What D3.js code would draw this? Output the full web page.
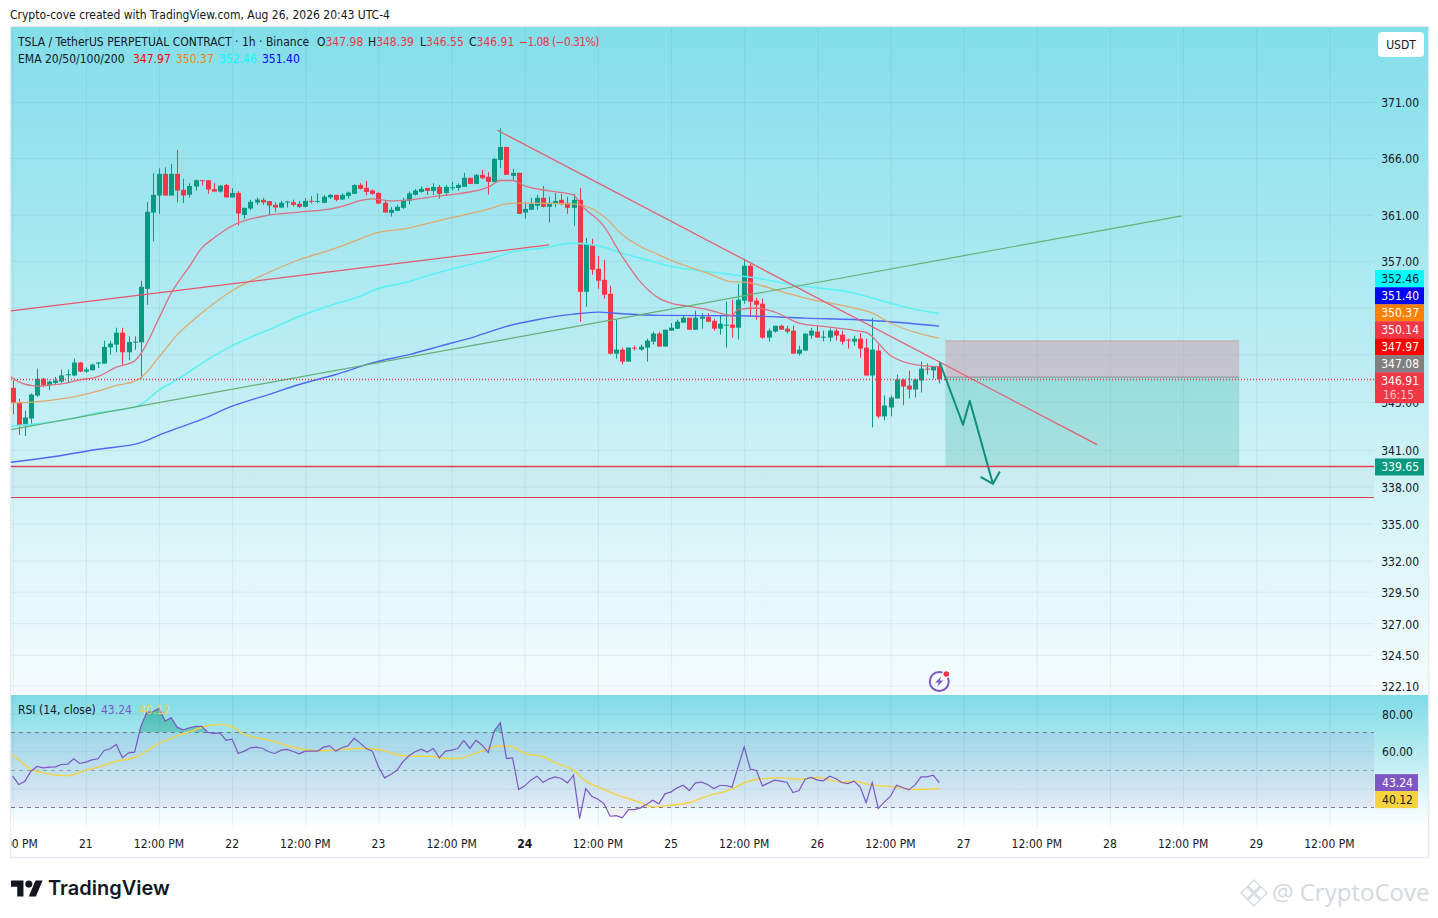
<!DOCTYPE html>
<html lang="en">
<head>
<meta charset="UTF-8" />
<title>TSLA / TetherUS 1h</title>
<script src="https://cdn.jsdelivr.net/npm/d3@7"></script>
<style>
  body { margin: 0; background: #fff; }
  svg { display: block; }
  text { font-family: "DejaVu Sans Condensed", "Noto Sans", sans-serif; font-size: 12px; fill: #131722; }
</style>
</head>
<body>
<div id="chart"></div>
<script>
// hourly candles, bar 0 = Aug 20 12:00
const opens = [346.18,344.93,343.05,343.62,345.54,346.94,346.43,346.60,346.71,347.24,
347.22,348.31,347.55,347.66,348.22,348.22,349.60,349.83,350.84,349.18,
350.02,350.02,354.59,361.20,362.69,364.60,362.69,364.60,363.19,362.75,
363.48,364.04,364.04,363.25,363.04,363.62,362.52,362.92,360.99,361.55,
362.08,362.31,362.20,361.87,361.64,362.11,362.11,361.96,361.70,362.22,
362.17,362.05,362.52,362.75,362.34,362.66,362.84,363.62,363.36,363.13,
362.92,362.05,361.17,361.35,361.61,362.25,362.75,363.01,363.36,363.10,
363.45,362.92,363.33,363.36,363.45,364.25,363.71,364.51,364.34,363.89,
365.83,366.98,364.42,364.69,361.20,361.44,361.79,362.49,361.70,361.99,
362.31,362.05,361.61,362.31,354.33,358.39,356.31,355.36,354.16,349.06,
349.40,348.39,349.57,349.40,349.57,350.08,350.76,349.66,351.01,351.18,
351.69,352.11,351.09,352.02,352.19,351.85,351.18,351.43,351.52,351.26,
353.57,356.57,353.57,353.31,350.42,350.93,351.43,351.18,351.01,349.06,
349.32,350.59,350.93,350.42,350.42,351.01,350.67,350.25,350.08,350.33,
349.57,347.22,349.32,343.79,344.54,345.29,346.88,346.37,346.04,346.80,
347.80,347.64,347.98];
const highs = [346.82,345.26,344.29,345.71,347.80,347.02,346.77,347.10,347.72,347.72,
348.64,348.36,347.89,348.22,348.36,350.16,350.16,351.26,351.26,350.53,
350.53,355.28,362.11,364.66,365.10,365.19,365.48,366.72,364.16,363.77,
364.10,364.04,364.04,363.77,363.62,363.71,363.33,363.07,361.61,362.31,
362.52,362.49,362.20,362.11,362.22,362.22,362.34,362.22,362.46,362.66,
362.89,362.75,362.81,362.75,362.89,363.04,363.68,363.77,363.98,363.22,
362.98,362.22,361.67,361.90,362.49,363.04,363.27,363.48,363.36,363.77,
363.62,363.62,363.89,363.77,364.69,364.25,364.57,364.95,364.75,366.01,
368.65,366.98,365.04,364.69,362.14,362.49,362.75,363.53,362.58,362.92,
362.84,362.58,362.84,363.36,358.99,358.91,357.43,357.09,354.85,351.94,
349.57,349.57,349.74,349.83,350.33,350.93,350.93,351.09,351.66,351.94,
352.28,352.11,352.71,352.51,352.51,352.02,352.36,353.48,353.65,355.02,
357.17,356.74,353.82,353.74,351.18,351.43,351.52,351.43,351.43,349.74,
350.76,351.26,351.43,351.01,351.18,351.18,351.01,350.33,350.59,350.81,
350.33,352.08,349.83,345.54,345.54,347.30,346.96,347.63,346.96,348.39,
348.22,348.02,348.39];
const lows = [343.96,342.25,342.17,342.99,345.40,346.23,345.99,346.46,346.60,346.60,
347.16,347.50,347.44,347.64,347.86,348.22,348.98,349.18,348.11,348.50,
349.40,346.94,353.22,358.68,361.08,362.69,362.69,362.08,362.02,362.52,
363.13,363.56,362.84,363.04,362.95,362.52,362.52,360.07,360.65,361.38,
361.87,361.87,360.94,361.26,361.61,361.64,361.73,361.58,361.64,361.99,
362.02,362.02,362.40,362.17,362.31,362.43,362.84,363.22,362.72,362.75,
361.96,361.20,360.85,361.32,361.52,361.90,362.69,362.95,362.75,362.72,
362.43,362.66,363.13,363.13,363.45,363.71,363.71,364.13,362.78,363.86,
365.10,364.51,364.07,361.08,360.65,361.41,361.44,361.64,360.33,361.67,
361.87,361.08,360.04,351.77,353.05,355.79,354.59,353.74,348.98,348.64,
348.14,348.39,349.32,349.32,348.39,349.83,349.66,349.66,351.01,351.15,
351.69,351.09,351.09,351.18,351.77,351.01,350.67,349.57,350.42,350.25,
353.31,352.22,351.94,350.33,350.08,350.84,351.09,350.76,349.06,348.90,
349.32,350.33,350.42,350.11,350.08,350.16,349.83,349.49,349.74,348.72,
347.22,342.88,343.62,343.46,343.79,345.29,344.71,345.29,345.37,345.79,
347.30,346.96,346.55];
const closes = [344.93,343.05,343.71,345.62,346.94,346.43,346.71,346.80,347.22,347.33,
348.31,347.55,347.72,348.14,348.31,349.63,349.91,350.84,349.18,350.05,
350.08,354.76,361.26,362.75,364.60,362.69,364.60,363.13,362.69,363.53,
364.04,363.98,363.22,363.04,363.56,362.52,362.92,361.11,361.61,362.14,
362.34,362.08,361.81,361.64,362.05,362.17,361.87,361.70,362.22,362.17,
362.22,362.58,362.75,362.31,362.75,362.95,363.62,363.27,363.01,362.84,
361.99,361.20,361.43,361.70,362.28,362.87,363.13,363.27,363.10,363.45,
362.84,363.45,363.42,363.62,364.25,363.71,364.51,364.22,363.89,365.92,
366.98,364.51,364.69,361.08,361.52,361.96,362.49,361.70,362.05,362.22,
361.93,361.61,362.31,354.33,358.47,356.23,355.28,354.08,349.06,349.40,
348.39,349.57,349.49,349.66,350.16,350.76,349.66,351.09,351.26,351.77,
352.11,351.09,352.11,352.22,351.77,351.18,351.60,351.52,351.26,353.65,
356.57,353.48,353.22,350.42,351.01,351.43,351.09,350.93,349.06,349.40,
350.76,351.01,350.42,350.50,351.01,350.59,350.08,350.19,350.33,349.49,
347.22,349.40,343.79,344.71,345.37,346.88,346.29,346.04,346.88,347.80,
347.72,347.97,346.91];

// EMA readings as [bar, price]
const ema20 = [[-0.3,347.1],[1,346.68],[3,346.38],[4,346.32],[6,346.40],[9,346.60],[11,346.85],[14,347.13],[17,347.92],[20,348.45],[21,349.04],[24,352.08],[26,354.22],[29,356.51],[31,358.10],[33,358.97],[36,360.04],[42,360.97],[47,361.23],[53,361.61],[55,361.90],[57,362.25],[59,362.40],[62,362.22],[65,362.31],[70,362.66],[73,362.84],[78,363.42],[80,364.01],[82,364.01],[84,363.53],[88,363.10],[92,362.75],[93,362.02],[97,359.98],[100,357.37],[103,355.16],[106,353.79],[108,353.36],[111,353.08],[114,352.80],[118,352.31],[119,352.80],[122,352.94],[125,352.60],[129,351.66],[133,351.37],[138,351.04],[140,350.87],[144,348.90],[148,348.14],[152,347.97]];
const ema50 = [[-0.3,344.9],[3,344.98],[9,345.34],[14,345.90],[17,346.38],[20,346.74],[21,347.02],[24,348.78],[27,350.67],[31,352.51],[36,354.42],[42,355.99],[47,357.09],[53,358.10],[57,358.91],[59,359.32],[65,359.84],[70,360.50],[78,361.49],[81,361.96],[83,362.02],[92,361.96],[97,360.85],[100,359.26],[103,358.24],[106,357.52],[108,357.03],[114,355.94],[118,355.19],[120,355.16],[126,354.36],[130,353.79],[138,352.94],[141,352.51],[144,351.66],[149,350.73],[152,350.37]];
const ema100 = [[-0.3,342.99],[3,343.13],[9,343.54],[14,344.10],[20,344.57],[21,344.79],[24,345.99],[27,346.88],[32,348.56],[36,349.74],[42,351.09],[47,352.22],[53,353.31],[57,353.94],[59,354.42],[65,355.22],[70,356.02],[78,357.09],[82,357.78],[87,358.10],[92,358.53],[96,358.30],[100,357.66],[103,357.23],[108,356.51],[117,355.88],[122,355.51],[128,354.93],[138,354.22],[142,353.65],[147,352.94],[152,352.46]];
const ema200 = [[-0.3,340.00],[6,340.41],[14,341.07],[21,341.62],[25,342.44],[31,343.54],[36,344.65],[42,345.62],[47,346.46],[53,347.30],[59,348.28],[65,348.98],[70,349.68],[76,350.53],[81,351.37],[86,351.94],[92,352.42],[96,352.59],[100,352.45],[106,352.31],[119,352.28],[130,352.08],[141,351.88],[152,351.40]];

// RSI per bar
const rsi = [46.67,42.23,44.0,49.34,51.83,51.11,51.47,51.65,52.89,53.07,
55.91,53.43,54.14,55.38,55.91,60.36,61.25,63.56,56.45,59.11,
59.47,72.98,80.63,80.98,82.76,76.0,77.78,72.63,71.38,72.45,
73.16,73.16,69.96,69.43,69.78,65.69,66.4,58.76,60.0,61.78,
62.14,61.43,59.65,58.76,60.54,60.89,59.83,58.58,60,60,
60,62.14,62.85,60,61.78,62.85,66.76,64.27,61.43,60,
51.65,45.78,47.56,49.69,54.31,57.51,59.65,61.07,59.47,61.43,
56.45,60,60.54,61.43,65.69,61.43,65.69,63.2,59.29,70.85,
75.11,56.09,56.45,39.56,41.51,44.54,46.67,43.47,45.25,46.31,
45.42,43.11,47.2,24.09,40.09,36.0,34.4,32.09,25.34,25.69,
24.45,28.89,28.89,29.78,31.74,33.87,31.91,37.25,38.31,40.45,
41.87,39.02,43.11,43.47,42.23,40.09,41.69,41.69,40.8,51.65,
62.31,50.4,49.69,41.51,43.11,44.54,44.0,43.47,37.96,39.02,
45.07,45.96,44.54,44.18,46.67,45.42,43.29,42.76,44.0,40.98,
32.62,43.29,29.43,33.0,36.0,41.87,40.62,39.38,41.87,46.31,
46.31,47.2,43.24];
const rsiMa = [[0,58.23],[3,50.4],[5,48.45],[9,46.85],[12,49.87],[14,51.47],[17,54.67],[20,56.63],[24,64.09],[29,70.31],[32,73.51],[34,74.23],[36,72.98],[38,68.89],[42,65.87],[47,61.43],[50,60.18],[57,61.43],[60,60.89],[63,58.23],[65,57.34],[69,57.16],[71,56.09],[73,56.09],[77,60.18],[80,62.85],[82,62.31],[84,58.76],[87,57],[89,53.78],[92,49.87],[94,44],[96,40.98],[99,36.89],[103,32.62],[105,30.31],[108,31.2],[111,32.62],[114,36.18],[118,39.74],[120,43.11],[122,44.89],[126,45.78],[129,45.07],[132,45.96],[136,43.47],[138,44],[140,42.58],[145,40.8],[148,39.56],[152,40.12]];

// drawings, [bar, price]
const fallLine = [[79.45,368.49],[177.9,341.45]];
const riseRed = [[-0.3,352.70],[87.98,358.38]];
const riseGreen = [[-0.3,342.69],[191.8,360.91]];
const zigzag = [[152.1,348.29],[155.9,343.10],[157,345.10],[160.8,338.23]];
const boxBars = [153,201.2];
const boxPrices = [350.14,347.08,339.65];
const lowerLevel = 337.18;

const gridPrices = [371,366,361,357,353,349,345,341,338,335,332,329.5,327,324.5,322.1];
const priceTicks = [371,366,361,357,345,341,338,335,332,329.5,327,324.5,322.1];
const rsiTicks = [80,60,40];
const rsiAxisTicks = [80,60];
const rsiLevels = [70,50,30];
const timeTicks = d3.range(0,217,12);

const axisLabels = [
  {v:346.91, bg:"#f23645", fg:"#fff", sub:"16:15"},
  {v:347.08, bg:"#808080", fg:"#fff"},
  {v:347.97, bg:"#ff0000", fg:"#fff"},
  {v:350.14, bg:"#f23645", fg:"#fff"},
  {v:350.37, bg:"#ff7f00", fg:"#fff"},
  {v:351.40, bg:"#0000ff", fg:"#fff"},
  {v:352.46, bg:"#00ffff", fg:"#131722"}
];
const stopLabel = [{v:339.65, bg:"#089981", fg:"#fff"}];
const rsiLabels = [
  {v:43.24, bg:"#7e57c2", fg:"#fff"},
  {v:40.12, bg:"#f5d33f", fg:"#131722"}
];

const width = 1438, height = 918;
const left = 11, plotRight = 1374, right = 1428;
const priceTop = 27, priceBottom = 695, rsiBottom = 827, frameBottom = 858;
const green = "#089981", red = "#f23645";

const t0 = Date.UTC(2026,7,20,12);
const time = i => new Date(t0 + i*3600000);

const x = d3.scaleUtc([time(0), time(216)], [12.7, 1329.4]);
const y = d3.scaleLog([322.1, 371], [685.5, 102]);
const yr = d3.scaleLinear([19.6, 89.9], [rsiBottom, priceBottom]);

const svg = d3.select("#chart").append("svg").attr("width", width).attr("height", height);
const defs = svg.append("defs");

function gradient(id, stops){
  const g = defs.append("linearGradient").attr("id", id).attr("x1",0).attr("y1",0).attr("x2",0).attr("y2",1);
  stops.forEach(s => g.append("stop").attr("offset", s[0]).attr("stop-color", s[1]));
}
gradient("bgMain", [[0,"#82deea"],[1,"#f5fcfd"]]);
gradient("bgRsi", [[0,"#7edbe6"],[1,"#ffffff"]]);
gradient("obFill", [[0,"rgba(8,153,129,.5)"],[0.8,"rgba(8,153,129,0)"]]);

defs.append("clipPath").attr("id","clipPlot").append("rect").attr("x",left).attr("y",priceTop).attr("width",plotRight-left).attr("height",frameBottom-priceTop);
defs.append("clipPath").attr("id","clipOver").append("rect").attr("x",left).attr("y",priceBottom).attr("width",plotRight-left).attr("height",yr(70)-priceBottom);
defs.append("clipPath").attr("id","clipUnder").append("rect").attr("x",left).attr("y",yr(30)).attr("width",plotRight-left).attr("height",rsiBottom-yr(30));
defs.append("marker").attr("id","arrowHead").attr("markerUnits","userSpaceOnUse")
  .attr("markerWidth",30).attr("markerHeight",30).attr("refX",0).attr("refY",0).attr("orient","auto")
  .attr("viewBox","-15 -15 30 30")
  .append("path").attr("d","M-10,-10L0,0L-10,10").attr("fill","none").attr("stroke","#0d8f7d").attr("stroke-width",2);

// page frame and pane backgrounds
svg.append("rect").attr("x",10.5).attr("y",priceTop-0.5).attr("width",right-10).attr("height",frameBottom-priceTop).attr("fill","#fff").attr("stroke","#e6e9ef").attr("stroke-width",1.5);
svg.append("rect").attr("x",left).attr("y",priceTop).attr("width",right-left).attr("height",priceBottom-priceTop).attr("fill","url(#bgMain)");
svg.append("rect").attr("x",left).attr("y",priceBottom).attr("width",right-left).attr("height",rsiBottom-priceBottom).attr("fill","url(#bgRsi)");

const plot = svg.append("g").attr("clip-path","url(#clipPlot)");
const gridColor = "rgba(50,90,110,.08)";

// grids
const gridX = plot.append("g").attr("transform",`translate(0,${rsiBottom})`)
  .call(d3.axisBottom(x).tickValues(timeTicks.map(time)).tickSize(-(rsiBottom-priceTop)).tickFormat(""));
gridX.select(".domain").remove();
gridX.selectAll("line").attr("stroke",gridColor);
const gridY = plot.append("g").attr("transform",`translate(${plotRight},0)`)
  .call(d3.axisLeft(y).tickValues(gridPrices).tickSize(plotRight-left).tickFormat(""));
gridY.select(".domain").remove();
gridY.selectAll("line").attr("stroke",gridColor);
const gridR = plot.append("g").attr("transform",`translate(${plotRight},0)`)
  .call(d3.axisLeft(yr).tickValues(rsiTicks).tickSize(plotRight-left).tickFormat(""));
gridR.select(".domain").remove();
gridR.selectAll("line").attr("stroke",gridColor);

// short position box and level band
plot.append("rect").attr("x",left).attr("width",plotRight-left)
  .attr("y",y(339.65)).attr("height",y(lowerLevel)-y(339.65)).attr("fill","rgba(120,130,130,.05)");
plot.append("rect").attr("x",x(time(boxBars[0]))).attr("width",x(time(boxBars[1]))-x(time(boxBars[0])))
  .attr("y",y(boxPrices[0])).attr("height",y(boxPrices[1])-y(boxPrices[0])).attr("fill","rgba(210,140,155,.42)");
plot.append("rect").attr("x",x(time(boxBars[0]))).attr("width",x(time(boxBars[1]))-x(time(boxBars[0])))
  .attr("y",y(boxPrices[1])).attr("height",y(boxPrices[2])-y(boxPrices[1])).attr("fill","rgba(8,153,129,.2)");
plot.append("line").attr("x1",x(time(boxBars[0]))).attr("x2",x(time(boxBars[1])))
  .attr("y1",y(boxPrices[0])).attr("y2",y(boxPrices[0])).attr("stroke","rgba(200,150,140,.7)");
plot.append("line").attr("x1",x(time(boxBars[0]))).attr("x2",x(time(boxBars[1])))
  .attr("y1",y(boxPrices[1])).attr("y2",y(boxPrices[1])).attr("stroke","rgba(130,110,120,.7)");

// candles
const candles = d3.range(opens.length).map(i => ({i, o:opens[i], h:highs[i], l:lows[i], c:closes[i]}));
const barW = 5;
const barX = d => Math.round(x(time(d.i)));
const col = d => d.c >= d.o ? green : red;
plot.append("g").selectAll("line").data(candles).join("line")
  .attr("x1",d => barX(d)+0.5).attr("x2",d => barX(d)+0.5)
  .attr("y1",d => y(d.h)).attr("y2",d => y(d.l)).attr("stroke",col);
plot.append("g").selectAll("rect").data(candles).join("rect")
  .attr("x",d => barX(d)-2).attr("width",barW)
  .attr("y",d => y(Math.max(d.o,d.c)))
  .attr("height",d => Math.max(1, Math.abs(y(d.o)-y(d.c))))
  .attr("fill",col);

// lines
const straight = d3.line().x(d => x(time(d[0]))).y(d => y(d[1]));
const smooth = d3.line().curve(d3.curveMonotoneX).x(d => x(time(d[0]))).y(d => y(d[1]));
function drawLine(gen, data, color, w){
  return plot.append("path").datum(data).attr("d",gen).attr("fill","none")
    .attr("stroke",color).attr("stroke-width",w).attr("stroke-linejoin","round");
}
drawLine(smooth,ema100,"#5cf2f4",1.6);
drawLine(smooth,ema200,"#4f68f5",1.4);
drawLine(smooth,ema50,"#e2a96e",1.3);
drawLine(smooth,ema20,"#df6f7e",1.3);
drawLine(straight,riseRed,"#e8566a",1.2);
drawLine(straight,riseGreen,"#66b074",1.2);
drawLine(straight,fallLine,"#ea5a6c",1.2);
drawLine(straight,zigzag,"#0d8f7d",2).attr("marker-end","url(#arrowHead)");

const snap = p => Math.round(y(p))+0.5;
const hLevel = p => plot.append("line").attr("x1",left).attr("x2",plotRight).attr("y1",snap(p)).attr("y2",snap(p));
hLevel(339.65).attr("stroke","#e63a4e").attr("stroke-width",1.7);
hLevel(lowerLevel).attr("stroke","#d93a4e");
hLevel(346.91).attr("stroke",red).attr("stroke-width",1.6).attr("stroke-dasharray","1 2");

// rsi
plot.append("rect").attr("x",left).attr("width",plotRight-left).attr("y",yr(70)).attr("height",yr(30)-yr(70)).attr("fill","rgba(126,87,194,.1)");
rsiLevels.forEach((l,k) => {
  plot.append("line").attr("x1",left).attr("x2",plotRight).attr("y1",Math.round(yr(l))+0.5).attr("y2",Math.round(yr(l))+0.5)
    .attr("stroke",k==1 ? "rgba(120,123,134,.6)" : "#787b86").attr("stroke-dasharray","4 4");
});
const rsiPts = rsi.map((v,i) => [i,v]);
plot.append("path").attr("clip-path","url(#clipOver)").datum(rsiPts)
  .attr("d",d3.area().x(d => x(time(d[0]))).y0(yr(70)).y1(d => yr(d[1])))
  .attr("fill","url(#obFill)");
plot.append("path").attr("clip-path","url(#clipUnder)").datum(rsiPts)
  .attr("d",d3.area().x(d => x(time(d[0]))).y0(yr(30)).y1(d => yr(d[1])))
  .attr("fill","rgba(242,54,69,.06)");
const rsiLine = d3.line().x(d => x(time(d[0]))).y(d => yr(d[1]));
const rsiMaLine = d3.line().curve(d3.curveMonotoneX).x(d => x(time(d[0]))).y(d => yr(d[1]));
plot.append("path").datum(rsiMa).attr("d",rsiMaLine).attr("fill","none").attr("stroke","#f5d33f").attr("stroke-width",1.4);
plot.append("path").datum(rsiPts).attr("d",rsiLine).attr("fill","none").attr("stroke","#7e57c2").attr("stroke-width",1.2);

// axes
const fmtTime = d => d.getUTCHours()==12 ? "12:00 PM" : d3.utcFormat("%-d")(d);
const axX = plot.append("g").attr("transform",`translate(-0.5,${rsiBottom})`)
  .call(d3.axisBottom(x).tickValues(timeTicks.map(time)).tickSize(0).tickPadding(12).tickFormat(fmtTime));
axX.select(".domain").remove();
axX.selectAll("text").style("font-weight",d => fmtTime(d)=="24" ? "bold" : null);

const axY = svg.append("g").attr("transform","translate(1419,1)")
  .call(d3.axisLeft(y).tickValues(priceTicks).tickSize(0).tickPadding(0).tickFormat(d3.format(".2f")));
axY.select(".domain").remove();
const axR = svg.append("g").attr("transform","translate(1413,1)")
  .call(d3.axisLeft(yr).tickValues(rsiAxisTicks).tickSize(0).tickPadding(0).tickFormat(d3.format(".2f")));
axR.select(".domain").remove();

// value tags on the right, pushed up or down when they collide
function tags(list, scale, dir, tagW, off){
  const h = 17;
  let prev = null;
  list.forEach(d => {
    let c = scale(d.v) + off;
    if(prev !== null) c = dir < 0 ? Math.min(c, prev-h) : Math.max(c, prev+h);
    const extra = d.sub ? 14 : 0;
    const g = svg.append("g");
    g.append("rect").attr("x",1375).attr("y",c-h/2).attr("width",tagW).attr("height",h+extra).attr("fill",d.bg);
    g.append("text").attr("x",1375+tagW-5).attr("y",c+4).attr("text-anchor","end").style("fill",d.fg).text(d.v.toFixed(2));
    if(d.sub) g.append("text").attr("x",1414).attr("y",c+extra+4).attr("text-anchor","end").style("fill","rgba(255,255,255,.7)").text(d.sub);
    prev = c;
  });
}
tags(axisLabels, y, -1, 49, 1.5);
tags(stopLabel, y, 1, 49, 0.5);
tags(rsiLabels, yr, 1, 43, 0);

// currency button
svg.append("rect").attr("x",1378).attr("y",32).attr("width",46).attr("height",25).attr("rx",4).attr("fill","#fff");
svg.append("text").attr("x",1401).attr("y",49).attr("text-anchor","middle").text("USDT");

// header texts
svg.append("text").attr("x",10).attr("y",19).text("Crypto-cove created with TradingView.com, Aug 26, 2026 20:43 UTC-4");
svg.append("text").attr("x",18).attr("y",46).text("TSLA / TetherUS PERPETUAL CONTRACT · 1h · Binance");
const ohlcLabels = ["O","H","L","C"], ohlcValues = ["347.98","348.39","346.55","346.91"], ohlcX = [317,368,420,469];
ohlcLabels.forEach((l,k) => {
  const t = svg.append("text").attr("x",ohlcX[k]).attr("y",46);
  t.append("tspan").text(l);
  t.append("tspan").style("fill",red).text(ohlcValues[k]);
});
svg.append("text").attr("x",519).attr("y",46).style("fill",red).style("letter-spacing","-0.6px").text("−1.08 (−0.31%)");
svg.append("text").attr("x",18).attr("y",63).text("EMA 20/50/100/200");
const emaValues = ["347.97","350.37","352.46","351.40"], emaColors = ["#ff0000","#ff7f00","#00ffff","#0000ff"], emaX = [133,176,219,262];
emaValues.forEach((v,k) => svg.append("text").attr("x",emaX[k]).attr("y",63).style("fill",emaColors[k]).text(v));
svg.append("text").attr("x",18).attr("y",714).text("RSI (14, close)");
svg.append("text").attr("x",101).attr("y",714).style("fill","#7e57c2").text("43.24");
svg.append("text").attr("x",139).attr("y",714).style("fill","#f5d33f").text("40.12");

// lightning marker
const bolt = svg.append("g").attr("transform",`translate(${x(time(152))},681.5)`);
bolt.append("circle").attr("r",9.5).attr("fill","none").attr("stroke","#7e57c2").attr("stroke-width",2);
bolt.append("path").attr("d","M2,-5L-4,1L-0.5,1L-2,5L4,-1L0.5,-1Z").attr("fill","#7e57c2");
bolt.append("circle").attr("cx",7).attr("cy",-7.5).attr("r",4).attr("fill","#fff");
bolt.append("circle").attr("cx",7).attr("cy",-7.5).attr("r",2.8).attr("fill",red);

// footer logo and watermark
const logo = svg.append("g").attr("transform","translate(11,877) scale(0.89)").attr("fill","#131722");
logo.append("path").attr("d","M14 22H7V11H0V4h14v18zM28 22h-8l7.5-18h8L28 22z");
logo.append("circle").attr("cx",20).attr("cy",8).attr("r",4);
svg.append("text").attr("x",48).attr("y",895).style("font-family","Inter, Roboto, sans-serif").style("font-size","20px").style("font-weight",600).text("TradingView");

const mark = svg.append("g").attr("transform","translate(1254,893)").attr("fill","none").attr("stroke","#d5dbe0").attr("stroke-width",1.4);
mark.append("path").attr("d","M0,-13L6,-7L0,-1L-6,-7Z M-7,-6L-1,0L-7,6L-13,0Z M7,-6L13,0L7,6L1,0Z M0,1L6,7L0,13L-6,7Z");
svg.append("text").attr("x",1272).attr("y",901).style("font-family","'Open Sans', sans-serif").style("font-size","24px").style("fill","#d3d9de").text("@ CryptoCove");
</script>
</body>
</html>
